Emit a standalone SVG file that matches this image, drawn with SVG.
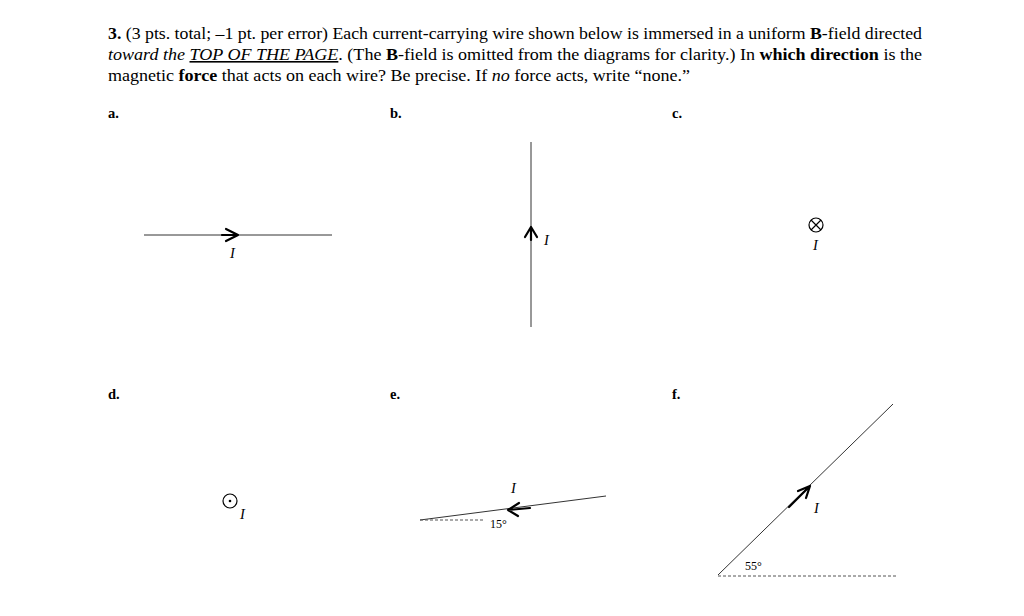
<svg xmlns="http://www.w3.org/2000/svg" width="1024" height="616" viewBox="0 0 1024 616">
<style>
text{font-family:"Liberation Serif",serif;font-size:14.5px;fill:#000}
.h{font-size:16px}
.i{font-style:italic}
.b{font-weight:bold}
.w{stroke:#333;stroke-width:1;fill:none}
.d{stroke:#555;stroke-width:1;stroke-dasharray:3,2;fill:none}
.ah{stroke:#000;stroke-width:2.2;fill:none;stroke-linecap:round;stroke-linejoin:round}
.sm{font-size:12px}
</style>
<rect width="1024" height="616" fill="#fff"/>
<g id="header">
<text class="h" x="108" y="39" textLength="814" lengthAdjust="spacingAndGlyphs"><tspan class="b">3.</tspan> (3 pts. total; –1 pt. per error)  Each current-carrying wire shown below is immersed in a uniform <tspan class="b">B</tspan>-field directed</text>
<text class="h" x="108" y="60" textLength="814" lengthAdjust="spacingAndGlyphs"><tspan class="i">toward the </tspan><tspan class="i" text-decoration="underline">TOP OF THE PAGE</tspan>.  (The <tspan class="b">B</tspan>-field is omitted from the diagrams for clarity.)  In <tspan class="b">which direction</tspan> is the</text>
<text class="h" x="108" y="81" textLength="582" lengthAdjust="spacingAndGlyphs">magnetic <tspan class="b">force</tspan> that acts on each wire?  Be precise.  If <tspan class="i">no</tspan> force acts, write “none.”</text>
<text x="108" y="118" class="b">a.</text>
<text x="390" y="118" class="b">b.</text>
<text x="672" y="118" class="b">c.</text>
<text x="108" y="399" class="b">d.</text>
<text x="390" y="399" class="b">e.</text>
<text x="672" y="399" class="b">f.</text>
</g>
<g id="wire-a">
<line class="w" x1="144" y1="235" x2="332" y2="235"/>
<path class="ah" d="M226,229 L238,235 L226,241 M222,235 L238,235"/>
<text class="i" x="230" y="258">I</text>
</g>
<g id="wire-b">
<line class="w" x1="531" y1="142" x2="531" y2="327"/>
<path class="ah" d="M525,237 L531,227 L537,237 M531,227 L531,240"/>
<text class="i" x="544" y="245">I</text>
</g>
<g id="wire-c">
<circle cx="816" cy="225" r="7" fill="none" stroke="#000" stroke-width="1.2"/>
<path d="M811,220 L821,230 M821,220 L811,230" stroke="#000" stroke-width="1.2"/>
<text class="i" x="813" y="250">I</text>
</g>
<g id="wire-d">
<circle cx="230" cy="501" r="7" fill="none" stroke="#000" stroke-width="1.2"/>
<circle cx="230" cy="501" r="1.3" fill="#000"/>
<text class="i" x="240" y="519">I</text>
</g>
<g id="wire-e">
<line class="w" x1="420" y1="520" x2="606" y2="496"/>
<line class="d" x1="420" y1="520" x2="484" y2="520"/>
<path class="ah" d="M519,503 L508,510 L518,516 M508,510 L530,508"/>
<text class="i" x="511" y="493">I</text>
<text class="sm" x="490" y="528">15°</text>
</g>
<g id="wire-f">
<line class="w" x1="718" y1="575" x2="893" y2="404"/>
<line class="d" x1="718" y1="576" x2="896" y2="576"/>
<path class="ah" d="M798,491 L810,486 L806,498 M810,486 L789,507"/>
<text class="i" x="814" y="513">I</text>
<text class="sm" x="745" y="570">55°</text>
</g>
</svg>
